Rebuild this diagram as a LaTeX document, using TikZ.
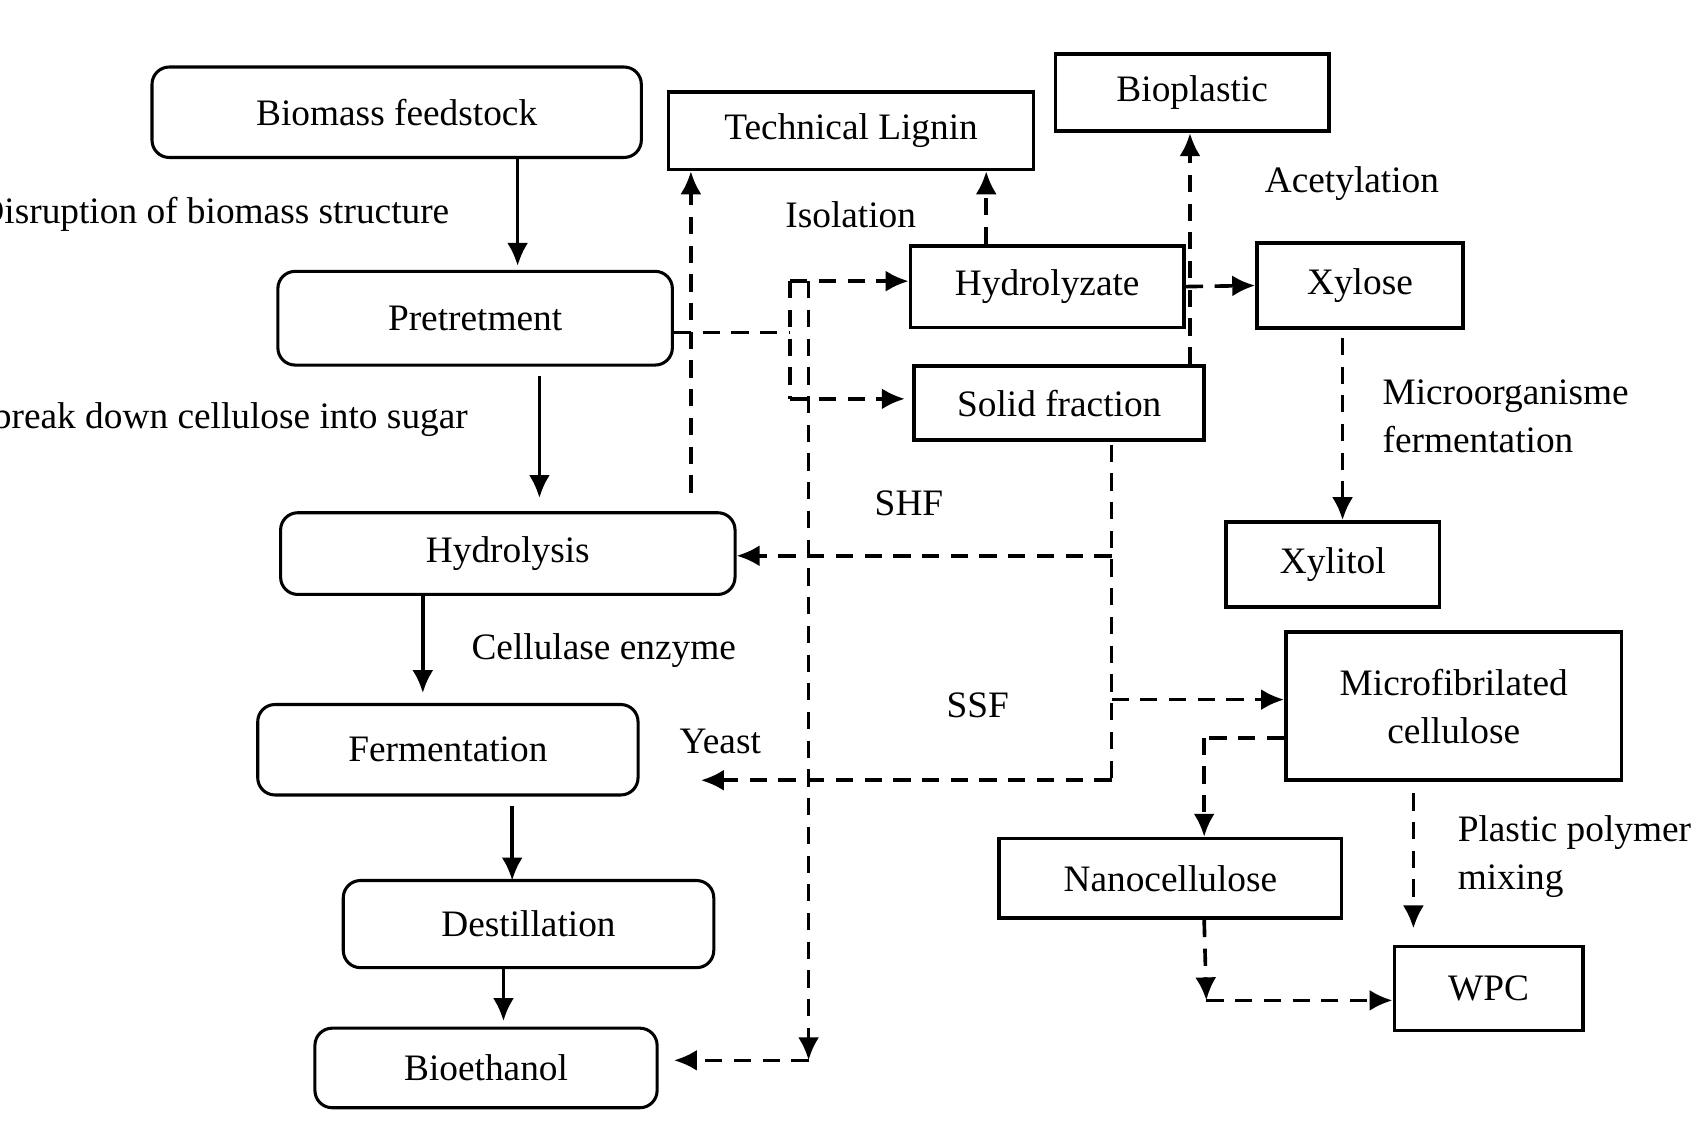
\documentclass[tikz,border=0pt]{standalone}
\usepackage{fontspec}
\setmainfont{Liberation Serif}
\usetikzlibrary{arrows.meta}
\begin{document}
\begin{tikzpicture}[x=0.02cm,y=-0.02cm,thick,
  font=\fontsize{19.5}{25}\selectfont,
  stage/.style={rounded corners=9pt,draw,line width=1.6pt},
  prod/.style={draw,line width=1.9pt},
  flow/.style={line width=1.9pt,-{Latex[length=12pt,width=11pt]}},
  alt/.style={flow,dash pattern=on 9pt off 6pt},
  altline/.style={line width=1.9pt,dash pattern=on 9pt off 6pt},
  lbl/.style={anchor=west,inner sep=0pt,align=left}]
\useasboundingbox (0,0) rectangle (1560,1031);
% process chain
\node [stage,minimum width=449*0.02cm,minimum height=83*0.02cm] (bio) at (364,103) {Biomass feedstock};
\node [stage,minimum width=362*0.02cm,minimum height=86*0.02cm] (pre) at (436,292) {Pretretment};
\node [stage,minimum width=417*0.02cm,minimum height=75*0.02cm] (hyd) at (466,508) {Hydrolysis};
\node [stage,minimum width=349*0.02cm,minimum height=83*0.02cm] (fer) at (411,688) {Fermentation};
\node [stage,minimum width=340*0.02cm,minimum height=80*0.02cm] (des) at (485,848) {Destillation};
\node [stage,minimum width=314*0.02cm,minimum height=73*0.02cm] (eth) at (446,980) {Bioethanol};
% products
\node [prod,minimum width=335*0.02cm,minimum height=71*0.02cm] (lig) at (781,120) {Technical Lignin};
\node [prod,minimum width=251*0.02cm,minimum height=71*0.02cm] (bpl) at (1094,85) {Bioplastic};
\node [prod,minimum width=251*0.02cm,minimum height=75*0.02cm] (hzt) at (961,263) {Hydrolyzate};
\node [prod,minimum width=189*0.02cm,minimum height=78*0.02cm] (xyl) at (1248,262) {Xylose};
\node [prod,minimum width=266*0.02cm,minimum height=68*0.02cm] (sol) at (972,370) {Solid fraction};
\node [prod,minimum width=196*0.02cm,minimum height=78*0.02cm] (xyt) at (1223,518) {Xylitol};
\node [prod,minimum width=308*0.02cm,minimum height=136*0.02cm,align=center] (mfc) at (1334,648) {Microfibrilated\\cellulose};
\node [prod,minimum width=314*0.02cm,minimum height=73*0.02cm] (nan) at (1074,806) {Nanocellulose};
\node [prod,minimum width=173*0.02cm,minimum height=77*0.02cm] (wpc) at (1366,907) {WPC};
% labels
\node [anchor=east,inner sep=0pt] (l1) at (413,197) {Disruption of biomass structure};
\node [anchor=east,inner sep=0pt] (l2) at (430,385) {break down cellulose into sugar};
\node [lbl] (l3) at (432,597) {Cellulase enzyme};
\node [lbl] (l4) at (623,680) {Yeast};
\node [lbl] (l5) at (802,462) {SHF};
\node [lbl] (l6) at (868,647) {SSF};
\node [lbl] (l7) at (720,197) {Isolation};
\node [lbl] (l8) at (1160,168) {Acetylation};
\node [lbl] (l9) at (1268,382) {Microorganisme\\fermentation};
\node [lbl] (l10) at (1337,786) {Plastic polymer\\mixing};
% junctions
\coordinate (pj) at (725,305);
\coordinate (pt) at (725,258);
\coordinate (pb) at (725,366);
\coordinate (vt) at (742,258);
\coordinate (vb) at (742,973);
\coordinate (st) at (1020,408);
\coordinate (s1) at (1020,510);
\coordinate (s2) at (1020,642);
\coordinate (s3) at (1020,716);
\coordinate (mj) at (1105,677);
\coordinate (nj) at (1107,918);
\coordinate (xs) at (1232,310);
% solid flow
\draw [flow] (bio.south -| 475,0) -- (475,244);
\draw [flow] (495,345) -- (495,457);
\draw [flow] (hyd.south -| 388,0) -- (388,636);
\draw [flow] (470,740) -- (470,808);
\draw [flow] (des.south -| 462,0) -- (462,937);
% dashed flow
\draw [altline] (pre.east |- pj) -- (pj) (pt) -- (pb);
\draw [alt] (pt) -- (hzt.west |- pt);
\draw [alt] (pb) -- ([xshift=-4pt]sol.west |- pb);
\draw [alt] (634,452) -- (lig.south -| 634,0);
\draw [alt] (hzt.north -| 905,0) -- (lig.south -| 905,0);
\draw [alt] (sol.north -| 1092,0) -- (bpl.south -| 1092,0);
\draw [alt] (hzt.east) -- (xyl.west);
\draw [alt] (xs) -- (xyt.north -| xs);
\draw [altline] (st) -- (s3);
\draw [alt] (s1) -- (hyd.east |- s1);
\draw [alt] (s3) -- ([xshift=32pt]fer.east |- s3);
\draw [alt] (s2) -- (mfc.west |- s2);
\draw [alt] (vt) -- (vb);
\draw [alt] (vb) -- ([xshift=8pt]eth.east |- vb);
\draw [altline] (mfc.west |- mj) -- (mj);
\draw [alt] (mj) -- (nan.north -| mj);
\draw [alt] (1297,728) -- (1297,852);
\draw [alt] (nan.south -| 1105,0) -- (nj);
\draw [alt] (nj) -- (wpc.west |- nj);
\end{tikzpicture}
\end{document}
